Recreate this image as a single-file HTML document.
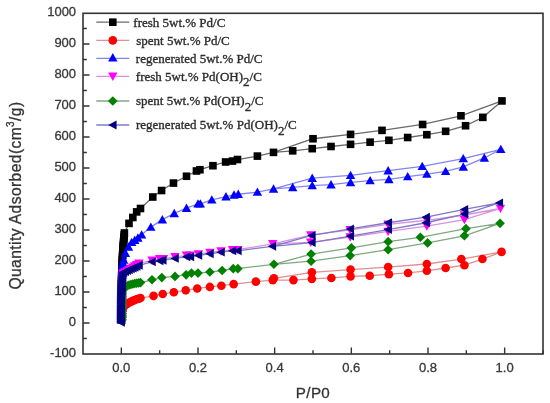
<!DOCTYPE html>
<html><head><meta charset="utf-8"><title>Isotherm</title>
<style>html,body{margin:0;padding:0;background:#fff;width:550px;height:403px;overflow:hidden}svg{display:block;filter:blur(0.35px)}</style>
</head><body>
<svg width="550" height="403" viewBox="0 0 550 403">
<rect width="550" height="403" fill="#ffffff"/>
<defs><clipPath id="c"><rect x="83" y="13.3" width="460" height="340.7"/></clipPath></defs>
<g clip-path="url(#c)">
<path d="M121.33 319.78L121.33 317.76L121.33 315.74L121.33 313.72L121.33 311.71L121.33 309.69L121.34 307.67L121.34 305.65L121.35 303.63L121.36 301.61L121.37 299.59L121.38 297.58L121.40 295.56L121.41 293.54L121.44 291.52L121.46 289.50L121.49 287.48L121.52 285.46L121.55 283.45L121.59 281.43L121.64 279.41L121.69 277.39L121.74 275.37L121.80 273.35L121.86 271.33L121.93 269.31L122.01 267.30L122.09 265.28L122.18 263.26L122.27 261.24L122.37 259.22L122.48 257.20L122.59 255.18L122.72 253.17L122.85 251.15L122.98 249.13L123.13 247.11L123.28 245.09L123.45 243.07L123.62 241.05L123.80 239.04L123.99 237.02L124.19 235.00L124.40 232.98L129.00 223.37L132.83 217.48L136.66 211.90L140.50 208.49L152.76 197.02L161.58 190.51L173.46 183.07L186.50 176.25L196.46 170.98L199.91 169.74L212.95 165.71L225.60 161.99L232.50 161.06L237.48 159.51L257.41 156.10L273.51 152.38L292.68 150.83L312.23 148.66L331.01 146.49L350.56 144.32L370.11 142.15L388.89 140.29L407.68 137.50L426.84 134.71L445.63 131.30L465.56 125.72L482.81 117.35L501.98 100.92L460.96 115.80L422.63 124.48L381.99 130.37L350.56 134.40L313.00 138.74L273.51 152.38" fill="none" stroke="#6a6a6a" stroke-width="1.3"/>
<g fill="#000000">
<rect x="117.53" y="315.98" width="7.60" height="7.60"/>
<rect x="117.53" y="313.96" width="7.60" height="7.60"/>
<rect x="117.53" y="311.94" width="7.60" height="7.60"/>
<rect x="117.53" y="309.92" width="7.60" height="7.60"/>
<rect x="117.53" y="307.91" width="7.60" height="7.60"/>
<rect x="117.53" y="305.89" width="7.60" height="7.60"/>
<rect x="117.54" y="303.87" width="7.60" height="7.60"/>
<rect x="117.54" y="301.85" width="7.60" height="7.60"/>
<rect x="117.55" y="299.83" width="7.60" height="7.60"/>
<rect x="117.56" y="297.81" width="7.60" height="7.60"/>
<rect x="117.57" y="295.79" width="7.60" height="7.60"/>
<rect x="117.58" y="293.78" width="7.60" height="7.60"/>
<rect x="117.60" y="291.76" width="7.60" height="7.60"/>
<rect x="117.61" y="289.74" width="7.60" height="7.60"/>
<rect x="117.64" y="287.72" width="7.60" height="7.60"/>
<rect x="117.66" y="285.70" width="7.60" height="7.60"/>
<rect x="117.69" y="283.68" width="7.60" height="7.60"/>
<rect x="117.72" y="281.66" width="7.60" height="7.60"/>
<rect x="117.75" y="279.65" width="7.60" height="7.60"/>
<rect x="117.79" y="277.63" width="7.60" height="7.60"/>
<rect x="117.84" y="275.61" width="7.60" height="7.60"/>
<rect x="117.89" y="273.59" width="7.60" height="7.60"/>
<rect x="117.94" y="271.57" width="7.60" height="7.60"/>
<rect x="118.00" y="269.55" width="7.60" height="7.60"/>
<rect x="118.06" y="267.53" width="7.60" height="7.60"/>
<rect x="118.13" y="265.51" width="7.60" height="7.60"/>
<rect x="118.21" y="263.50" width="7.60" height="7.60"/>
<rect x="118.29" y="261.48" width="7.60" height="7.60"/>
<rect x="118.38" y="259.46" width="7.60" height="7.60"/>
<rect x="118.47" y="257.44" width="7.60" height="7.60"/>
<rect x="118.57" y="255.42" width="7.60" height="7.60"/>
<rect x="118.68" y="253.40" width="7.60" height="7.60"/>
<rect x="118.79" y="251.38" width="7.60" height="7.60"/>
<rect x="118.92" y="249.37" width="7.60" height="7.60"/>
<rect x="119.05" y="247.35" width="7.60" height="7.60"/>
<rect x="119.18" y="245.33" width="7.60" height="7.60"/>
<rect x="119.33" y="243.31" width="7.60" height="7.60"/>
<rect x="119.48" y="241.29" width="7.60" height="7.60"/>
<rect x="119.65" y="239.27" width="7.60" height="7.60"/>
<rect x="119.82" y="237.25" width="7.60" height="7.60"/>
<rect x="120.00" y="235.24" width="7.60" height="7.60"/>
<rect x="120.19" y="233.22" width="7.60" height="7.60"/>
<rect x="120.39" y="231.20" width="7.60" height="7.60"/>
<rect x="120.60" y="229.18" width="7.60" height="7.60"/>
<rect x="125.20" y="219.57" width="7.60" height="7.60"/>
<rect x="129.03" y="213.68" width="7.60" height="7.60"/>
<rect x="132.86" y="208.10" width="7.60" height="7.60"/>
<rect x="136.70" y="204.69" width="7.60" height="7.60"/>
<rect x="148.96" y="193.22" width="7.60" height="7.60"/>
<rect x="157.78" y="186.71" width="7.60" height="7.60"/>
<rect x="169.66" y="179.27" width="7.60" height="7.60"/>
<rect x="182.70" y="172.45" width="7.60" height="7.60"/>
<rect x="192.66" y="167.18" width="7.60" height="7.60"/>
<rect x="196.11" y="165.94" width="7.60" height="7.60"/>
<rect x="209.15" y="161.91" width="7.60" height="7.60"/>
<rect x="221.80" y="158.19" width="7.60" height="7.60"/>
<rect x="228.70" y="157.26" width="7.60" height="7.60"/>
<rect x="233.68" y="155.71" width="7.60" height="7.60"/>
<rect x="253.61" y="152.30" width="7.60" height="7.60"/>
<rect x="269.71" y="148.58" width="7.60" height="7.60"/>
<rect x="288.88" y="147.03" width="7.60" height="7.60"/>
<rect x="308.43" y="144.86" width="7.60" height="7.60"/>
<rect x="327.21" y="142.69" width="7.60" height="7.60"/>
<rect x="346.76" y="140.52" width="7.60" height="7.60"/>
<rect x="366.31" y="138.35" width="7.60" height="7.60"/>
<rect x="385.09" y="136.49" width="7.60" height="7.60"/>
<rect x="403.88" y="133.70" width="7.60" height="7.60"/>
<rect x="423.04" y="130.91" width="7.60" height="7.60"/>
<rect x="441.83" y="127.50" width="7.60" height="7.60"/>
<rect x="461.76" y="121.92" width="7.60" height="7.60"/>
<rect x="479.01" y="113.55" width="7.60" height="7.60"/>
<rect x="498.18" y="97.12" width="7.60" height="7.60"/>
<rect x="457.16" y="112.00" width="7.60" height="7.60"/>
<rect x="418.83" y="120.68" width="7.60" height="7.60"/>
<rect x="378.19" y="126.57" width="7.60" height="7.60"/>
<rect x="346.76" y="130.60" width="7.60" height="7.60"/>
<rect x="309.19" y="134.94" width="7.60" height="7.60"/>
</g>
<path d="M121.33 319.78L121.34 317.74L121.40 315.71L121.57 313.67L121.90 311.63L122.45 309.59L123.26 307.56L124.40 305.52L125.55 304.90L127.08 303.97L129.00 302.73L130.91 301.80L132.83 300.87L134.75 299.94L136.66 299.32L138.58 298.70L140.50 298.08L153.53 295.91L162.73 294.05L173.85 292.19L185.73 290.33L197.23 288.47L209.88 286.92L221.38 285.68L233.65 284.13L255.88 281.65L272.75 280.10L293.45 280.10L311.85 278.86L331.39 277.93L350.56 276.38L369.73 275.76L388.89 274.21L408.06 272.97L426.84 270.80L445.63 268.01L464.41 265.22L482.43 259.02L501.59 251.89L461.34 259.02L426.84 263.98L388.13 267.08L350.56 269.56L311.85 272.35L273.90 278.24L273.13 280.10" fill="none" stroke="#e09090" stroke-width="1.3"/>
<g fill="#ff0000">
<circle cx="121.33" cy="319.78" r="4.3"/>
<circle cx="121.34" cy="317.74" r="4.3"/>
<circle cx="121.40" cy="315.71" r="4.3"/>
<circle cx="121.57" cy="313.67" r="4.3"/>
<circle cx="121.90" cy="311.63" r="4.3"/>
<circle cx="122.45" cy="309.59" r="4.3"/>
<circle cx="123.26" cy="307.56" r="4.3"/>
<circle cx="124.40" cy="305.52" r="4.3"/>
<circle cx="125.55" cy="304.90" r="4.3"/>
<circle cx="127.08" cy="303.97" r="4.3"/>
<circle cx="129.00" cy="302.73" r="4.3"/>
<circle cx="130.91" cy="301.80" r="4.3"/>
<circle cx="132.83" cy="300.87" r="4.3"/>
<circle cx="134.75" cy="299.94" r="4.3"/>
<circle cx="136.66" cy="299.32" r="4.3"/>
<circle cx="138.58" cy="298.70" r="4.3"/>
<circle cx="140.50" cy="298.08" r="4.3"/>
<circle cx="153.53" cy="295.91" r="4.3"/>
<circle cx="162.73" cy="294.05" r="4.3"/>
<circle cx="173.85" cy="292.19" r="4.3"/>
<circle cx="185.73" cy="290.33" r="4.3"/>
<circle cx="197.23" cy="288.47" r="4.3"/>
<circle cx="209.88" cy="286.92" r="4.3"/>
<circle cx="221.38" cy="285.68" r="4.3"/>
<circle cx="233.65" cy="284.13" r="4.3"/>
<circle cx="255.88" cy="281.65" r="4.3"/>
<circle cx="272.75" cy="280.10" r="4.3"/>
<circle cx="293.45" cy="280.10" r="4.3"/>
<circle cx="311.85" cy="278.86" r="4.3"/>
<circle cx="331.39" cy="277.93" r="4.3"/>
<circle cx="350.56" cy="276.38" r="4.3"/>
<circle cx="369.73" cy="275.76" r="4.3"/>
<circle cx="388.89" cy="274.21" r="4.3"/>
<circle cx="408.06" cy="272.97" r="4.3"/>
<circle cx="426.84" cy="270.80" r="4.3"/>
<circle cx="445.63" cy="268.01" r="4.3"/>
<circle cx="464.41" cy="265.22" r="4.3"/>
<circle cx="482.43" cy="259.02" r="4.3"/>
<circle cx="501.59" cy="251.89" r="4.3"/>
<circle cx="461.34" cy="259.02" r="4.3"/>
<circle cx="426.84" cy="263.98" r="4.3"/>
<circle cx="388.13" cy="267.08" r="4.3"/>
<circle cx="350.56" cy="269.56" r="4.3"/>
<circle cx="311.85" cy="272.35" r="4.3"/>
<circle cx="273.90" cy="278.24" r="4.3"/>
</g>
<path d="M121.33 319.78L121.33 317.75L121.33 315.73L121.33 313.70L121.33 311.68L121.34 309.65L121.35 307.62L121.35 305.60L121.37 303.57L121.38 301.55L121.40 299.52L121.42 297.49L121.45 295.47L121.48 293.44L121.52 291.42L121.57 289.39L121.62 287.36L121.67 285.34L121.74 283.31L121.81 281.28L121.89 279.26L121.98 277.23L122.07 275.21L122.18 273.18L122.30 271.15L122.42 269.13L122.56 267.10L122.70 265.08L122.86 263.05L123.63 259.95L125.43 253.13L128.50 246.93L131.68 242.28L134.75 240.11L137.89 237.94L141.61 234.84L150.85 227.09L162.35 219.65L174.23 213.45L186.50 208.18L198.00 203.84L200.30 203.84L211.80 199.81L225.98 196.71L234.03 194.85L238.25 194.23L257.41 192.06L273.51 188.96L292.68 187.41L312.23 185.55L331.01 184.62L350.56 182.45L370.11 180.59L388.89 179.35L407.68 176.56L426.84 174.08L445.63 171.29L463.26 166.95L484.34 157.96L500.83 149.28L463.26 158.58L422.24 166.33L388.13 170.67L350.56 175.32L312.23 178.11L273.51 188.96" fill="none" stroke="#8484f0" stroke-width="1.3"/>
<g fill="#0000ff">
<path d="M121.33 315.16L126.03 323.56L116.63 323.56Z"/>
<path d="M121.33 313.13L126.03 321.53L116.63 321.53Z"/>
<path d="M121.33 311.11L126.03 319.51L116.63 319.51Z"/>
<path d="M121.33 309.08L126.03 317.48L116.63 317.48Z"/>
<path d="M121.33 307.06L126.03 315.46L116.63 315.46Z"/>
<path d="M121.34 305.03L126.04 313.43L116.64 313.43Z"/>
<path d="M121.35 303.00L126.05 311.40L116.65 311.40Z"/>
<path d="M121.35 300.98L126.05 309.38L116.65 309.38Z"/>
<path d="M121.37 298.95L126.07 307.35L116.67 307.35Z"/>
<path d="M121.38 296.93L126.08 305.33L116.68 305.33Z"/>
<path d="M121.40 294.90L126.10 303.30L116.70 303.30Z"/>
<path d="M121.42 292.87L126.12 301.27L116.72 301.27Z"/>
<path d="M121.45 290.85L126.15 299.25L116.75 299.25Z"/>
<path d="M121.48 288.82L126.18 297.22L116.78 297.22Z"/>
<path d="M121.52 286.80L126.22 295.19L116.82 295.19Z"/>
<path d="M121.57 284.77L126.27 293.17L116.87 293.17Z"/>
<path d="M121.62 282.74L126.32 291.14L116.92 291.14Z"/>
<path d="M121.67 280.72L126.37 289.12L116.97 289.12Z"/>
<path d="M121.74 278.69L126.44 287.09L117.04 287.09Z"/>
<path d="M121.81 276.66L126.51 285.06L117.11 285.06Z"/>
<path d="M121.89 274.64L126.59 283.04L117.19 283.04Z"/>
<path d="M121.98 272.61L126.68 281.01L117.28 281.01Z"/>
<path d="M122.07 270.59L126.77 278.99L117.37 278.99Z"/>
<path d="M122.18 268.56L126.88 276.96L117.48 276.96Z"/>
<path d="M122.30 266.53L127.00 274.93L117.60 274.93Z"/>
<path d="M122.42 264.51L127.12 272.91L117.72 272.91Z"/>
<path d="M122.56 262.48L127.26 270.88L117.86 270.88Z"/>
<path d="M122.70 260.46L127.40 268.86L118.00 268.86Z"/>
<path d="M122.86 258.43L127.56 266.83L118.16 266.83Z"/>
<path d="M123.63 255.33L128.33 263.73L118.93 263.73Z"/>
<path d="M125.43 248.51L130.13 256.91L120.73 256.91Z"/>
<path d="M128.50 242.31L133.20 250.71L123.80 250.71Z"/>
<path d="M131.68 237.66L136.38 246.06L126.98 246.06Z"/>
<path d="M134.75 235.49L139.45 243.89L130.05 243.89Z"/>
<path d="M137.89 233.32L142.59 241.72L133.19 241.72Z"/>
<path d="M141.61 230.22L146.31 238.62L136.91 238.62Z"/>
<path d="M150.85 222.47L155.55 230.87L146.15 230.87Z"/>
<path d="M162.35 215.03L167.05 223.43L157.65 223.43Z"/>
<path d="M174.23 208.83L178.93 217.23L169.53 217.23Z"/>
<path d="M186.50 203.56L191.20 211.96L181.80 211.96Z"/>
<path d="M198.00 199.22L202.70 207.62L193.30 207.62Z"/>
<path d="M200.30 199.22L205.00 207.62L195.60 207.62Z"/>
<path d="M211.80 195.19L216.50 203.59L207.10 203.59Z"/>
<path d="M225.98 192.09L230.68 200.49L221.28 200.49Z"/>
<path d="M234.03 190.23L238.73 198.63L229.33 198.63Z"/>
<path d="M238.25 189.61L242.95 198.01L233.55 198.01Z"/>
<path d="M257.41 187.44L262.11 195.84L252.71 195.84Z"/>
<path d="M273.51 184.34L278.21 192.74L268.81 192.74Z"/>
<path d="M292.68 182.79L297.38 191.19L287.98 191.19Z"/>
<path d="M312.23 180.93L316.93 189.33L307.53 189.33Z"/>
<path d="M331.01 180.00L335.71 188.40L326.31 188.40Z"/>
<path d="M350.56 177.83L355.26 186.23L345.86 186.23Z"/>
<path d="M370.11 175.97L374.81 184.37L365.41 184.37Z"/>
<path d="M388.89 174.73L393.59 183.13L384.19 183.13Z"/>
<path d="M407.68 171.94L412.38 180.34L402.98 180.34Z"/>
<path d="M426.84 169.46L431.54 177.86L422.14 177.86Z"/>
<path d="M445.63 166.67L450.33 175.07L440.93 175.07Z"/>
<path d="M463.26 162.33L467.96 170.73L458.56 170.73Z"/>
<path d="M484.34 153.34L489.04 161.74L479.64 161.74Z"/>
<path d="M500.83 144.66L505.53 153.06L496.13 153.06Z"/>
<path d="M463.26 153.96L467.96 162.36L458.56 162.36Z"/>
<path d="M422.24 161.71L426.94 170.11L417.54 170.11Z"/>
<path d="M388.13 166.05L392.83 174.45L383.43 174.45Z"/>
<path d="M350.56 170.70L355.26 179.10L345.86 179.10Z"/>
<path d="M312.23 173.49L316.93 181.89L307.53 181.89Z"/>
</g>
<path d="M122.10 319.78L122.10 318.25L122.10 316.72L122.10 315.20L122.10 313.67L122.10 312.14L122.10 310.61L122.10 309.08L122.10 307.56L122.10 306.03L122.10 304.50L122.10 302.97L122.10 301.45L122.10 299.92L122.10 298.39L122.10 296.86L122.10 295.33L122.10 293.81L122.10 292.28L122.10 290.75L122.10 289.22L122.10 287.69L122.10 286.17L122.10 284.64L122.10 283.11L122.10 281.58L122.10 280.06L122.10 278.53L122.10 277.00L122.86 273.59L123.82 272.97L125.16 272.13L127.08 270.92L129.00 269.68L130.91 268.48L132.83 267.27L134.75 266.03L136.66 264.82L138.96 263.36L152.00 260.26L159.66 258.71L163.50 258.71L175.00 256.85L186.50 255.30L190.33 255.30L198.38 254.06L209.88 252.51L221.00 251.12L232.50 249.72L237.86 249.72L272.75 243.83L310.70 242.28L350.18 237.01L388.13 231.43L426.84 226.16L464.41 219.65L500.44 208.49L464.41 215.00L426.84 220.27L388.13 224.30L350.18 229.88L310.70 235.15L272.75 243.83" fill="none" stroke="#d890e0" stroke-width="1.3"/>
<g fill="#ff00ff">
<path d="M122.10 324.40L126.80 316.00L117.40 316.00Z"/>
<path d="M122.10 322.87L126.80 314.47L117.40 314.47Z"/>
<path d="M122.10 321.34L126.80 312.94L117.40 312.94Z"/>
<path d="M122.10 319.82L126.80 311.42L117.40 311.42Z"/>
<path d="M122.10 318.29L126.80 309.89L117.40 309.89Z"/>
<path d="M122.10 316.76L126.80 308.36L117.40 308.36Z"/>
<path d="M122.10 315.23L126.80 306.83L117.40 306.83Z"/>
<path d="M122.10 313.70L126.80 305.31L117.40 305.31Z"/>
<path d="M122.10 312.18L126.80 303.78L117.40 303.78Z"/>
<path d="M122.10 310.65L126.80 302.25L117.40 302.25Z"/>
<path d="M122.10 309.12L126.80 300.72L117.40 300.72Z"/>
<path d="M122.10 307.59L126.80 299.19L117.40 299.19Z"/>
<path d="M122.10 306.07L126.80 297.67L117.40 297.67Z"/>
<path d="M122.10 304.54L126.80 296.14L117.40 296.14Z"/>
<path d="M122.10 303.01L126.80 294.61L117.40 294.61Z"/>
<path d="M122.10 301.48L126.80 293.08L117.40 293.08Z"/>
<path d="M122.10 299.95L126.80 291.55L117.40 291.55Z"/>
<path d="M122.10 298.43L126.80 290.03L117.40 290.03Z"/>
<path d="M122.10 296.90L126.80 288.50L117.40 288.50Z"/>
<path d="M122.10 295.37L126.80 286.97L117.40 286.97Z"/>
<path d="M122.10 293.84L126.80 285.44L117.40 285.44Z"/>
<path d="M122.10 292.31L126.80 283.92L117.40 283.92Z"/>
<path d="M122.10 290.79L126.80 282.39L117.40 282.39Z"/>
<path d="M122.10 289.26L126.80 280.86L117.40 280.86Z"/>
<path d="M122.10 287.73L126.80 279.33L117.40 279.33Z"/>
<path d="M122.10 286.20L126.80 277.80L117.40 277.80Z"/>
<path d="M122.10 284.68L126.80 276.28L117.40 276.28Z"/>
<path d="M122.10 283.15L126.80 274.75L117.40 274.75Z"/>
<path d="M122.10 281.62L126.80 273.22L117.40 273.22Z"/>
<path d="M122.86 278.21L127.56 269.81L118.16 269.81Z"/>
<path d="M123.82 277.59L128.52 269.19L119.12 269.19Z"/>
<path d="M125.16 276.75L129.86 268.35L120.46 268.35Z"/>
<path d="M127.08 275.54L131.78 267.14L122.38 267.14Z"/>
<path d="M129.00 274.30L133.70 265.90L124.30 265.90Z"/>
<path d="M130.91 273.10L135.61 264.70L126.21 264.70Z"/>
<path d="M132.83 271.89L137.53 263.49L128.13 263.49Z"/>
<path d="M134.75 270.65L139.45 262.25L130.05 262.25Z"/>
<path d="M136.66 269.44L141.36 261.04L131.96 261.04Z"/>
<path d="M138.96 267.98L143.66 259.58L134.26 259.58Z"/>
<path d="M152.00 264.88L156.70 256.48L147.30 256.48Z"/>
<path d="M159.66 263.33L164.36 254.93L154.96 254.93Z"/>
<path d="M163.50 263.33L168.20 254.93L158.80 254.93Z"/>
<path d="M175.00 261.47L179.70 253.07L170.30 253.07Z"/>
<path d="M186.50 259.92L191.20 251.52L181.80 251.52Z"/>
<path d="M190.33 259.92L195.03 251.52L185.63 251.52Z"/>
<path d="M198.38 258.68L203.08 250.28L193.68 250.28Z"/>
<path d="M209.88 257.13L214.58 248.73L205.18 248.73Z"/>
<path d="M221.00 255.74L225.70 247.34L216.30 247.34Z"/>
<path d="M232.50 254.34L237.20 245.94L227.80 245.94Z"/>
<path d="M237.86 254.34L242.56 245.94L233.16 245.94Z"/>
<path d="M272.75 248.45L277.45 240.05L268.05 240.05Z"/>
<path d="M310.70 246.90L315.40 238.50L306.00 238.50Z"/>
<path d="M350.18 241.63L354.88 233.23L345.48 233.23Z"/>
<path d="M388.13 236.05L392.83 227.65L383.43 227.65Z"/>
<path d="M426.84 230.78L431.54 222.38L422.14 222.38Z"/>
<path d="M464.41 224.27L469.11 215.87L459.71 215.87Z"/>
<path d="M500.44 213.11L505.14 204.71L495.74 204.71Z"/>
<path d="M464.41 219.62L469.11 211.22L459.71 211.22Z"/>
<path d="M426.84 224.89L431.54 216.49L422.14 216.49Z"/>
<path d="M388.13 228.92L392.83 220.52L383.43 220.52Z"/>
<path d="M350.18 234.50L354.88 226.10L345.48 226.10Z"/>
<path d="M310.70 239.77L315.40 231.37L306.00 231.37Z"/>
</g>
<path d="M122.10 319.78L122.10 317.71L122.10 315.65L122.10 313.58L122.10 311.51L122.10 309.45L122.10 307.38L122.10 305.31L122.10 303.25L122.10 301.18L122.10 299.11L122.10 297.05L122.10 294.98L122.10 292.91L122.10 290.85L122.10 288.78L124.40 287.54L125.93 286.61L127.46 285.68L129.00 285.06L130.91 284.44L132.83 283.98L134.75 283.51L136.66 283.20L138.58 282.89L140.50 282.58L152.00 279.79L161.81 277.62L175.00 276.38L186.11 274.83L191.48 273.09L198.00 273.09L209.88 272.04L222.15 270.49L233.26 268.63L237.86 268.63L273.90 264.29L311.08 261.19L350.18 255.61L388.13 249.72L427.61 242.90L464.41 235.77L500.06 223.37L465.94 228.64L420.33 237.32L388.13 241.66L351.33 247.86L311.08 254.06L273.90 264.29" fill="none" stroke="#80a880" stroke-width="1.3"/>
<g fill="#008000">
<path d="M122.10 314.98L126.90 319.78L122.10 324.58L117.30 319.78Z"/>
<path d="M122.10 312.91L126.90 317.71L122.10 322.51L117.30 317.71Z"/>
<path d="M122.10 310.85L126.90 315.65L122.10 320.45L117.30 315.65Z"/>
<path d="M122.10 308.78L126.90 313.58L122.10 318.38L117.30 313.58Z"/>
<path d="M122.10 306.71L126.90 311.51L122.10 316.31L117.30 311.51Z"/>
<path d="M122.10 304.65L126.90 309.45L122.10 314.25L117.30 309.45Z"/>
<path d="M122.10 302.58L126.90 307.38L122.10 312.18L117.30 307.38Z"/>
<path d="M122.10 300.51L126.90 305.31L122.10 310.11L117.30 305.31Z"/>
<path d="M122.10 298.45L126.90 303.25L122.10 308.05L117.30 303.25Z"/>
<path d="M122.10 296.38L126.90 301.18L122.10 305.98L117.30 301.18Z"/>
<path d="M122.10 294.31L126.90 299.11L122.10 303.91L117.30 299.11Z"/>
<path d="M122.10 292.25L126.90 297.05L122.10 301.85L117.30 297.05Z"/>
<path d="M122.10 290.18L126.90 294.98L122.10 299.78L117.30 294.98Z"/>
<path d="M122.10 288.11L126.90 292.91L122.10 297.71L117.30 292.91Z"/>
<path d="M122.10 286.05L126.90 290.85L122.10 295.65L117.30 290.85Z"/>
<path d="M122.10 283.98L126.90 288.78L122.10 293.58L117.30 288.78Z"/>
<path d="M124.40 282.74L129.20 287.54L124.40 292.34L119.60 287.54Z"/>
<path d="M125.93 281.81L130.73 286.61L125.93 291.41L121.13 286.61Z"/>
<path d="M127.46 280.88L132.26 285.68L127.46 290.48L122.66 285.68Z"/>
<path d="M129.00 280.26L133.80 285.06L129.00 289.86L124.20 285.06Z"/>
<path d="M130.91 279.64L135.71 284.44L130.91 289.24L126.11 284.44Z"/>
<path d="M132.83 279.18L137.63 283.98L132.83 288.78L128.03 283.98Z"/>
<path d="M134.75 278.71L139.55 283.51L134.75 288.31L129.95 283.51Z"/>
<path d="M136.66 278.40L141.46 283.20L136.66 288.00L131.86 283.20Z"/>
<path d="M138.58 278.09L143.38 282.89L138.58 287.69L133.78 282.89Z"/>
<path d="M140.50 277.78L145.30 282.58L140.50 287.38L135.70 282.58Z"/>
<path d="M152.00 274.99L156.80 279.79L152.00 284.59L147.20 279.79Z"/>
<path d="M161.81 272.82L166.61 277.62L161.81 282.42L157.01 277.62Z"/>
<path d="M175.00 271.58L179.80 276.38L175.00 281.18L170.20 276.38Z"/>
<path d="M186.11 270.03L190.91 274.83L186.11 279.63L181.31 274.83Z"/>
<path d="M191.48 268.29L196.28 273.09L191.48 277.89L186.68 273.09Z"/>
<path d="M198.00 268.29L202.80 273.09L198.00 277.89L193.20 273.09Z"/>
<path d="M209.88 267.24L214.68 272.04L209.88 276.84L205.08 272.04Z"/>
<path d="M222.15 265.69L226.95 270.49L222.15 275.29L217.35 270.49Z"/>
<path d="M233.26 263.83L238.06 268.63L233.26 273.43L228.46 268.63Z"/>
<path d="M237.86 263.83L242.66 268.63L237.86 273.43L233.06 268.63Z"/>
<path d="M273.90 259.49L278.70 264.29L273.90 269.09L269.10 264.29Z"/>
<path d="M311.08 256.39L315.88 261.19L311.08 265.99L306.28 261.19Z"/>
<path d="M350.18 250.81L354.98 255.61L350.18 260.41L345.38 255.61Z"/>
<path d="M388.13 244.92L392.93 249.72L388.13 254.52L383.33 249.72Z"/>
<path d="M427.61 238.10L432.41 242.90L427.61 247.70L422.81 242.90Z"/>
<path d="M464.41 230.97L469.21 235.77L464.41 240.57L459.61 235.77Z"/>
<path d="M500.06 218.57L504.86 223.37L500.06 228.17L495.26 223.37Z"/>
<path d="M465.94 223.84L470.74 228.64L465.94 233.44L461.14 228.64Z"/>
<path d="M420.33 232.52L425.13 237.32L420.33 242.12L415.53 237.32Z"/>
<path d="M388.13 236.86L392.93 241.66L388.13 246.46L383.33 241.66Z"/>
<path d="M351.33 243.06L356.13 247.86L351.33 252.66L346.53 247.86Z"/>
<path d="M311.08 249.26L315.88 254.06L311.08 258.86L306.28 254.06Z"/>
</g>
<path d="M120.95 322.26L120.95 321.25L120.95 320.25L120.95 319.24L120.95 318.23L120.95 317.22L120.95 316.21L120.95 315.21L120.95 314.20L120.96 313.19L120.96 312.19L120.97 311.18L120.97 310.17L120.98 309.16L120.98 308.15L120.99 307.15L121.00 306.14L121.01 305.13L121.03 304.12L121.04 303.12L121.06 302.11L121.08 301.10L121.09 300.10L121.12 299.09L121.14 298.08L121.16 297.07L121.19 296.06L121.22 295.06L121.25 294.05L121.28 293.04L121.32 292.04L121.36 291.03L121.40 290.02L121.44 289.01L121.49 288.00L121.54 287.00L121.59 285.99L121.65 284.98L121.71 283.98L121.77 282.97L121.83 281.96L121.90 280.95L121.97 279.94L122.05 278.94L122.13 277.93L122.21 276.92L122.30 275.92L122.39 274.91L122.48 273.90L123.44 272.26L125.16 271.48L127.08 270.64L129.00 269.81L130.91 268.94L132.83 268.10L134.75 267.24L136.66 266.40L138.96 265.38L152.00 261.81L159.66 260.88L162.73 260.26L175.00 258.40L186.50 256.85L190.33 256.85L198.38 255.42L209.88 253.75L221.00 252.20L232.50 250.81L237.86 250.81L272.36 246.31L311.85 242.59L350.18 236.08L388.13 229.57L426.08 222.75L464.41 214.07L499.29 202.91L464.41 209.42L426.08 217.17L388.13 222.75L350.18 228.95L311.85 235.46L272.36 246.31" fill="none" stroke="#8078c8" stroke-width="1.3"/>
<g fill="#000080">
<path d="M116.33 322.26L124.73 317.86L124.73 326.66Z"/>
<path d="M116.33 321.25L124.73 316.85L124.73 325.65Z"/>
<path d="M116.33 320.25L124.73 315.85L124.73 324.64Z"/>
<path d="M116.33 319.24L124.73 314.84L124.73 323.64Z"/>
<path d="M116.33 318.23L124.73 313.83L124.73 322.63Z"/>
<path d="M116.33 317.22L124.73 312.82L124.73 321.62Z"/>
<path d="M116.33 316.21L124.73 311.81L124.73 320.61Z"/>
<path d="M116.33 315.21L124.73 310.81L124.73 319.61Z"/>
<path d="M116.33 314.20L124.73 309.80L124.73 318.60Z"/>
<path d="M116.34 313.19L124.74 308.79L124.74 317.59Z"/>
<path d="M116.34 312.19L124.74 307.79L124.74 316.58Z"/>
<path d="M116.35 311.18L124.75 306.78L124.75 315.58Z"/>
<path d="M116.35 310.17L124.75 305.77L124.75 314.57Z"/>
<path d="M116.36 309.16L124.76 304.76L124.76 313.56Z"/>
<path d="M116.36 308.15L124.76 303.75L124.76 312.55Z"/>
<path d="M116.37 307.15L124.77 302.75L124.77 311.55Z"/>
<path d="M116.38 306.14L124.78 301.74L124.78 310.54Z"/>
<path d="M116.39 305.13L124.79 300.73L124.79 309.53Z"/>
<path d="M116.41 304.12L124.81 299.73L124.81 308.52Z"/>
<path d="M116.42 303.12L124.82 298.72L124.82 307.52Z"/>
<path d="M116.44 302.11L124.84 297.71L124.84 306.51Z"/>
<path d="M116.46 301.10L124.86 296.70L124.86 305.50Z"/>
<path d="M116.47 300.10L124.87 295.70L124.87 304.50Z"/>
<path d="M116.50 299.09L124.90 294.69L124.90 303.49Z"/>
<path d="M116.52 298.08L124.92 293.68L124.92 302.48Z"/>
<path d="M116.54 297.07L124.94 292.67L124.94 301.47Z"/>
<path d="M116.57 296.06L124.97 291.67L124.97 300.46Z"/>
<path d="M116.60 295.06L125.00 290.66L125.00 299.46Z"/>
<path d="M116.63 294.05L125.03 289.65L125.03 298.45Z"/>
<path d="M116.66 293.04L125.06 288.64L125.06 297.44Z"/>
<path d="M116.70 292.04L125.10 287.64L125.10 296.44Z"/>
<path d="M116.74 291.03L125.14 286.63L125.14 295.43Z"/>
<path d="M116.78 290.02L125.18 285.62L125.18 294.42Z"/>
<path d="M116.82 289.01L125.22 284.61L125.22 293.41Z"/>
<path d="M116.87 288.00L125.27 283.61L125.27 292.40Z"/>
<path d="M116.92 287.00L125.32 282.60L125.32 291.40Z"/>
<path d="M116.97 285.99L125.37 281.59L125.37 290.39Z"/>
<path d="M117.03 284.98L125.43 280.58L125.43 289.38Z"/>
<path d="M117.09 283.98L125.49 279.58L125.49 288.38Z"/>
<path d="M117.15 282.97L125.55 278.57L125.55 287.37Z"/>
<path d="M117.21 281.96L125.61 277.56L125.61 286.36Z"/>
<path d="M117.28 280.95L125.68 276.55L125.68 285.35Z"/>
<path d="M117.35 279.94L125.75 275.55L125.75 284.34Z"/>
<path d="M117.43 278.94L125.83 274.54L125.83 283.34Z"/>
<path d="M117.51 277.93L125.91 273.53L125.91 282.33Z"/>
<path d="M117.59 276.92L125.99 272.52L125.99 281.32Z"/>
<path d="M117.68 275.92L126.08 271.52L126.08 280.31Z"/>
<path d="M117.77 274.91L126.17 270.51L126.17 279.31Z"/>
<path d="M117.86 273.90L126.26 269.50L126.26 278.30Z"/>
<path d="M118.82 272.26L127.22 267.86L127.22 276.66Z"/>
<path d="M120.54 271.48L128.94 267.08L128.94 275.88Z"/>
<path d="M122.46 270.64L130.86 266.25L130.86 275.04Z"/>
<path d="M124.38 269.81L132.78 265.41L132.78 274.21Z"/>
<path d="M126.29 268.94L134.69 264.54L134.69 273.34Z"/>
<path d="M128.21 268.10L136.61 263.70L136.61 272.50Z"/>
<path d="M130.13 267.24L138.53 262.84L138.53 271.63Z"/>
<path d="M132.04 266.40L140.44 262.00L140.44 270.80Z"/>
<path d="M134.34 265.38L142.74 260.98L142.74 269.77Z"/>
<path d="M147.38 261.81L155.78 257.41L155.78 266.21Z"/>
<path d="M155.04 260.88L163.44 256.48L163.44 265.28Z"/>
<path d="M158.11 260.26L166.51 255.86L166.51 264.66Z"/>
<path d="M170.38 258.40L178.78 254.00L178.78 262.80Z"/>
<path d="M181.88 256.85L190.28 252.45L190.28 261.25Z"/>
<path d="M185.71 256.85L194.11 252.45L194.11 261.25Z"/>
<path d="M193.76 255.42L202.16 251.02L202.16 259.82Z"/>
<path d="M205.26 253.75L213.66 249.35L213.66 258.15Z"/>
<path d="M216.38 252.20L224.78 247.80L224.78 256.60Z"/>
<path d="M227.88 250.81L236.28 246.41L236.28 255.21Z"/>
<path d="M233.24 250.81L241.64 246.41L241.64 255.21Z"/>
<path d="M267.74 246.31L276.14 241.91L276.14 250.71Z"/>
<path d="M307.23 242.59L315.63 238.19L315.63 246.99Z"/>
<path d="M345.56 236.08L353.96 231.68L353.96 240.48Z"/>
<path d="M383.51 229.57L391.91 225.17L391.91 233.97Z"/>
<path d="M421.46 222.75L429.86 218.35L429.86 227.15Z"/>
<path d="M459.79 214.07L468.19 209.67L468.19 218.47Z"/>
<path d="M494.67 202.91L503.07 198.51L503.07 207.31Z"/>
<path d="M459.79 209.42L468.19 205.02L468.19 213.82Z"/>
<path d="M421.46 217.17L429.86 212.77L429.86 221.57Z"/>
<path d="M383.51 222.75L391.91 218.35L391.91 227.15Z"/>
<path d="M345.56 228.95L353.96 224.55L353.96 233.35Z"/>
<path d="M307.23 235.46L315.63 231.06L315.63 239.86Z"/>
</g>
</g>
<rect x="83" y="13.3" width="460" height="340.7" fill="none" stroke="#333333" stroke-width="1.6"/>
<path d="M83 338.50h3.8 M83 323.00h6.5 M83 307.50h3.8 M83 292.00h6.5 M83 276.50h3.8 M83 261.00h6.5 M83 245.50h3.8 M83 230.00h6.5 M83 214.50h3.8 M83 199.00h6.5 M83 183.50h3.8 M83 168.00h6.5 M83 152.50h3.8 M83 137.00h6.5 M83 121.50h3.8 M83 106.00h6.5 M83 90.50h3.8 M83 75.00h6.5 M83 59.50h3.8 M83 44.00h6.5 M83 28.50h3.8 M121.33 354v-6.5 M159.66 354v-3.8 M198.00 354v-6.5 M236.33 354v-3.8 M274.66 354v-6.5 M313.00 354v-3.8 M351.33 354v-6.5 M389.66 354v-3.8 M427.99 354v-6.5 M466.33 354v-3.8 M504.66 354v-6.5 M542.99 354v-3.8" stroke="#333333" stroke-width="1.4" fill="none"/>
<g font-family="'Liberation Sans', Arial, sans-serif" font-size="13" fill="#383838" stroke="#383838" stroke-width="0.3">
<text x="76.1" y="357.30" text-anchor="end">-100</text>
<text x="76.1" y="326.30" text-anchor="end">0</text>
<text x="76.1" y="295.30" text-anchor="end">100</text>
<text x="76.1" y="264.30" text-anchor="end">200</text>
<text x="76.1" y="233.30" text-anchor="end">300</text>
<text x="76.1" y="202.30" text-anchor="end">400</text>
<text x="76.1" y="171.30" text-anchor="end">500</text>
<text x="76.1" y="140.30" text-anchor="end">600</text>
<text x="76.1" y="109.30" text-anchor="end">700</text>
<text x="76.1" y="78.30" text-anchor="end">800</text>
<text x="76.1" y="47.30" text-anchor="end">900</text>
<text x="76.1" y="16.30" text-anchor="end">1000</text>
<text x="121.33" y="372.3" text-anchor="middle" font-size="13">0.0</text>
<text x="198.00" y="372.3" text-anchor="middle" font-size="13">0.2</text>
<text x="274.66" y="372.3" text-anchor="middle" font-size="13">0.4</text>
<text x="351.33" y="372.3" text-anchor="middle" font-size="13">0.6</text>
<text x="427.99" y="372.3" text-anchor="middle" font-size="13">0.8</text>
<text x="504.66" y="372.3" text-anchor="middle" font-size="13">1.0</text>
</g>
<text x="313" y="398" text-anchor="middle" font-family="'Liberation Sans', Arial, sans-serif" font-size="15.2" letter-spacing="0.35" fill="#333" stroke="#333" stroke-width="0.3">P/P0</text>
<text transform="translate(21.2 195.5) rotate(-90)" text-anchor="middle" font-family="'Liberation Sans', Arial, sans-serif" font-size="15.6" letter-spacing="0.42" fill="#333" stroke="#333" stroke-width="0.3">Quantity Adsorbed(cm<tspan dy="-7.5" font-size="10">3</tspan><tspan dy="7.5">/g)</tspan></text>
<g font-family="'Liberation Serif', 'Times New Roman', serif" font-size="13">
<path d="M96.3 22.2H129.3" stroke="#6a6a6a" stroke-width="1.3"/>
<g fill="#000000"><rect x="109.00" y="18.40" width="7.60" height="7.60"/></g>
<text x="133.3" y="26.5" fill="#2e2e2e" stroke="#2e2e2e" stroke-width="0.35">fresh 5wt.% Pd/C</text>
<path d="M96.3 40.4H129.3" stroke="#e09090" stroke-width="1.3"/>
<g fill="#ff0000"><circle cx="112.80" cy="40.40" r="4.3"/></g>
<text x="136.2" y="44.7" fill="#2e2e2e" stroke="#2e2e2e" stroke-width="0.35">spent 5wt.% Pd/C</text>
<path d="M96.3 58.4H129.3" stroke="#8484f0" stroke-width="1.3"/>
<g fill="#0000ff"><path d="M112.80 53.08L117.50 61.48L108.10 61.48Z"/></g>
<text x="135.8" y="62.7" fill="#2e2e2e" stroke="#2e2e2e" stroke-width="0.35">regenerated 5wt.% Pd/C</text>
<path d="M96.3 76.3H129.3" stroke="#d890e0" stroke-width="1.3"/>
<g fill="#ff00ff"><path d="M112.80 80.92L117.50 72.52L108.10 72.52Z"/></g>
<text x="135.8" y="80.6" fill="#2e2e2e" stroke="#2e2e2e" stroke-width="0.35">fresh 5wt.% Pd(OH)<tspan dy="5.5">2</tspan><tspan dy="-5.5">/C</tspan></text>
<path d="M96.3 101H129.3" stroke="#80a880" stroke-width="1.3"/>
<g fill="#008000"><path d="M112.80 96.20L117.60 101.00L112.80 105.80L108.00 101.00Z"/></g>
<text x="136" y="105.3" fill="#2e2e2e" stroke="#2e2e2e" stroke-width="0.35">spent 5wt.% Pd(OH)<tspan dy="5.5">2</tspan><tspan dy="-5.5">/C</tspan></text>
<path d="M96.3 125H129.3" stroke="#8078c8" stroke-width="1.3"/>
<g fill="#000080"><path d="M108.18 125.00L116.58 120.60L116.58 129.40Z"/></g>
<text x="136" y="129.3" fill="#2e2e2e" stroke="#2e2e2e" stroke-width="0.35">regenerated 5wt.% Pd(OH)<tspan dy="5.5">2</tspan><tspan dy="-5.5">/C</tspan></text>
</g>
</svg>
</body></html>
